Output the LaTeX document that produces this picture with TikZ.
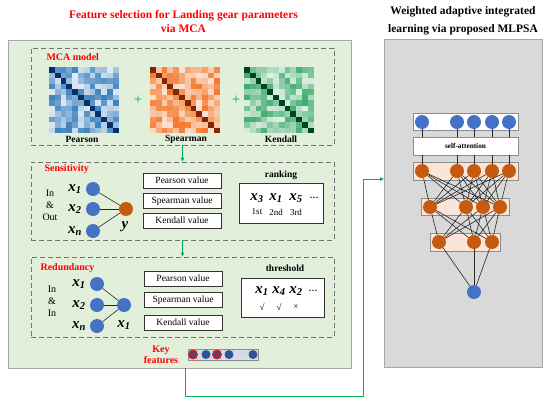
\documentclass[tikz,border=0pt]{standalone}
\usepackage{fontspec}
\setmainfont{Liberation Serif}
\usetikzlibrary{arrows.meta}
\definecolor{leafgreen}{HTML}{E2EFDA}
\definecolor{panelgray}{HTML}{D9D9D9}
\definecolor{peach}{HTML}{FBE5D6}
\definecolor{nodeblue}{HTML}{4472C4}
\definecolor{nodeorange}{HTML}{C55A11}
\definecolor{keyblue}{HTML}{2F5597}
\definecolor{barfill}{HTML}{D6DCE5}
\definecolor{arrowgreen}{HTML}{00B050}
\definecolor{pmid}{HTML}{2171B5}
\definecolor{pdark}{HTML}{08306B}
\definecolor{smid}{HTML}{F16913}
\definecolor{sdark}{HTML}{7F2704}
\definecolor{kmid}{HTML}{2CA25F}
\definecolor{kdark}{HTML}{00441B}
\newcommand\xvar[1]{{\bfseries\itshape x\textsubscript{#1}}}
\newcommand\heatmap[4]{%
  \foreach \i in {0,...,11}{\foreach \j in {0,...,11}{%
    \pgfmathtruncatemacro\hv{15+75*rnd}%
    \fill[#3!\hv!white] (#1+\i*5.8,#2+\j*5.5) rectangle ++(5.8,5.5);}}%
  \foreach \i in {0,...,11}{\fill[#4] (#1+\i*5.8,#2+\i*5.5) rectangle ++(5.8,5.5);}%
}
\tikzset{
  panel/.style={draw=black!35,line width=1pt,inner sep=0},
  dashbox/.style={draw=black!55,line width=0.9pt,dash pattern=on 5pt off 3pt,minimum width=303,inner sep=0},
  valbox/.style={draw=black!80,line width=0.8pt,fill=white,minimum width=78,minimum height=15,inner sep=0,font=\fontsize{9.5}{10}\selectfont},
  bnode/.style={circle,fill=nodeblue,minimum size=14,inner sep=0},
  onode/.style={circle,fill=nodeorange,minimum size=14,inner sep=0},
  knode/.style={circle,fill=keyblue,minimum size=9,inner sep=0},
  redlbl/.style={text=red,font=\bfseries\fontsize{10}{11}\selectfont,align=center},
  boldlbl/.style={font=\bfseries\fontsize{9.5}{10}\selectfont},
  xlbl/.style={font=\fontsize{15}{15}\selectfont,inner sep=0},
  small/.style={font=\fontsize{9}{12}\selectfont,align=center,inner sep=0},
  inout/.style={font=\fontsize{10}{12}\selectfont,align=center,inner sep=0},
  netbox/.style={draw=black!45,line width=0.8pt,fill=peach,inner sep=0},
  vdot/.style={font=\tiny,inner sep=0},
  wire/.style={draw=black!85,line width=0.6pt},
  garrow/.style={draw=arrowgreen,line width=0.9pt,-{Triangle[length=4pt,width=3.5pt]}}
}
\begin{document}
\begin{tikzpicture}[x=1pt,y=-1pt]
\useasboundingbox (0,0) rectangle (550,405);
\node[text=red,font=\bfseries\fontsize{11.5}{14}\selectfont,align=center] (lt) at (183.5,22) {Feature selection for Landing gear parameters\\via MCA};
\node[font=\bfseries\fontsize{11.5}{18}\selectfont,align=center] (rt) at (463,21) {Weighted adaptive integrated\\learning via proposed MLPSA};
\node[panel,fill=leafgreen,minimum width=343,minimum height=328] (lp) at (179.5,204) {};
\node[panel,fill=panelgray,minimum width=158,minimum height=328] (rp) at (463,203) {};

\node[dashbox,minimum height=97] (mca) at (182.5,96.5) {};
\node[dashbox,minimum height=78] (sens) at (182.5,201) {};
\node[dashbox,minimum height=80] (red) at (182.5,297) {};
\node[redlbl,anchor=west] (mcal) at (43,57) {MCA model};
\node[redlbl,anchor=west] (sensl) at (41,169) {Sensitivity};
\node[redlbl,anchor=west] (redl) at (37,268) {Redundancy};

\pgfmathsetseed{12}
\heatmap{49}{67}{pmid}{pdark}
\heatmap{150}{67}{smid}{sdark}
\heatmap{244}{67}{kmid}{kdark}
\node[boldlbl] (hp) at (82,139) {Pearson};
\node[boldlbl] (hs) at (186,139) {Spearman};
\node[boldlbl] (hk) at (281,139) {Kendall};
\node[text=arrowgreen,font=\fontsize{15}{15}\selectfont] (plus1) at (138,100) {+};
\node[text=arrowgreen,font=\fontsize{15}{15}\selectfont] (plus2) at (236,100) {+};
\draw[garrow] (mca.south) -- (sens.north);
\draw[garrow] (sens.south) -- (red.north);

\node[inout] (io) at (50,205) {In\\\&\\Out};
\node[bnode] (s1) at (93,189) {};
\node[bnode] (s2) at (93,209) {};
\node[bnode] (s3) at (93,231) {};
\node[onode] (sy) at (126,209) {};
\foreach \k in {1,2,3} \draw[wire] (s\k) -- (sy);
\node[xlbl] (ls1) at (75,189) {\xvar{1}};
\node[xlbl] (ls2) at (75,209) {\xvar{2}};
\node[xlbl] (ls3) at (75,231) {\xvar{n}};
\node[xlbl] (lsy) at (125,227) {\textbf{\textit{y}}};
\node[valbox] (sp) at (182,180.5) {Pearson value};
\node[valbox] (ss) at (182,201) {Spearman value};
\node[valbox] (sk) at (182,220.5) {Kendall value};
\node[boldlbl] (rankl) at (281,175) {ranking};
\node[draw=black!80,line width=0.8pt,fill=white,minimum width=84,minimum height=40,inner sep=0] (rank) at (281,203) {};
\node[xlbl] (r1) at (257,198) {\xvar{3}};
\node[xlbl] (r2) at (276,198) {\xvar{1}};
\node[xlbl] (r3) at (296,198) {\xvar{5}};
\node[small] (r4) at (314,198) {\textbf{…}};
\node[small] (o1) at (257,212) {1st};
\node[small] (o2) at (276,212) {2nd};
\node[small] (o3) at (296,212) {3rd};

\node[inout] (ii) at (52,301) {In\\\&\\In};
\node[bnode] (q1) at (97,284) {};
\node[bnode] (q2) at (97,305) {};
\node[bnode] (q3) at (97,326) {};
\node[bnode] (qy) at (124,305) {};
\foreach \k in {1,2,3} \draw[wire] (q\k) -- (qy);
\node[xlbl] (lq1) at (79,284) {\xvar{1}};
\node[xlbl] (lq2) at (79,305) {\xvar{2}};
\node[xlbl] (lq3) at (79,326) {\xvar{n}};
\node[xlbl] (lqy) at (124,325) {\xvar{1}};
\node[valbox] (rp1) at (183,278.5) {Pearson value};
\node[valbox] (rs1) at (183,300) {Spearman value};
\node[valbox] (rk1) at (183,322.5) {Kendall value};
\node[boldlbl] (thrl) at (285,268) {threshold};
\node[draw=black!80,line width=0.8pt,fill=white,minimum width=83,minimum height=39,inner sep=0] (thr) at (282.5,297.5) {};
\node[xlbl] (t1) at (262,291) {\xvar{1}};
\node[xlbl] (t2) at (279,291) {\xvar{4}};
\node[xlbl] (t3) at (296,291) {\xvar{2}};
\node[small] (t4) at (313,291) {\textbf{…}};
\node[small] (c1) at (262,307) {\textbf{√}};
\node[small] (c2) at (279,307) {\textbf{√}};
\node[small] (c3) at (296,307) {×};

\node[redlbl] (keyl) at (161,354.5) {Key\\features};
\node[draw=black!45,line width=0.8pt,fill=barfill,minimum width=70,minimum height=11,inner sep=0] (kbar) at (223,354.5) {};
\foreach \n/\x in {1/193,2/206,3/217,4/229,5/253} \node[knode] (k\n) at (\x,354.5) {};
\foreach \n in {1,3} {
  \node[knode,draw=red!85!orange,line width=0.8pt] (kx\n) at (k\n) {};
  \draw[red,line width=0.7pt] (kx\n.north west) -- (kx\n.south east);
  \draw[red,line width=0.7pt] (kx\n.north east) -- (kx\n.south west);
}
\node[vdot,text=black!40] (kdots) at (242,354.5) {···};

\coordinate (kout) at (185,368);
\coordinate (kturn) at (363,396);
\coordinate (rin) at (384,179);
\draw[garrow] (kout) |- (kturn) |- (rin);

\node[netbox,fill=white,minimum width=105,minimum height=17] (l1) at (465.5,121.5) {};
\node[netbox,fill=white,minimum width=105,minimum height=18,font=\bfseries\fontsize{7.3}{8}\selectfont] (att) at (465.5,146) {self-attention};
\node[netbox,minimum width=105,minimum height=18] (l3) at (465.5,171) {};
\node[netbox,minimum width=88,minimum height=17] (l4) at (465,206.5) {};
\node[netbox,minimum width=70,minimum height=18] (l5) at (465,242) {};
\foreach \n/\x in {1/422,2/457,3/474,4/492,5/509} {
  \node[bnode] (a\n) at (\x,122) {};
  \node[onode] (c\n) at (\x,171) {};
  \draw[wire] (a\n) -- (a\n |- att.north);
  \draw[wire] (att.south -| c\n) -- (c\n);
}
\foreach \n/\x in {1/430,2/466,3/483,4/500} \node[onode] (d\n) at (\x,207) {};
\foreach \n/\x in {1/439,2/474,3/492} \node[onode] (e\n) at (\x,242) {};
\node[bnode] (out) at (474,292) {};
\foreach \i in {1,...,5} \foreach \j in {1,...,4} \draw[wire] (c\i) -- (d\j);
\foreach \i in {1,...,4} \foreach \j in {1,...,3} \draw[wire] (d\i) -- (e\j);
\foreach \i in {1,...,3} \draw[wire] (e\i) -- (out);
\node[vdot,text=black!40] (dl1) at (437,122) {$\vdots$};
\node[vdot,text=orange!50] (dl3) at (437,171) {$\vdots$};
\node[vdot,text=orange!50] (dl4) at (446,207) {$\vdots$};
\node[vdot,text=orange!50] (dl5) at (454,242) {$\vdots$};
\end{tikzpicture}
\end{document}
